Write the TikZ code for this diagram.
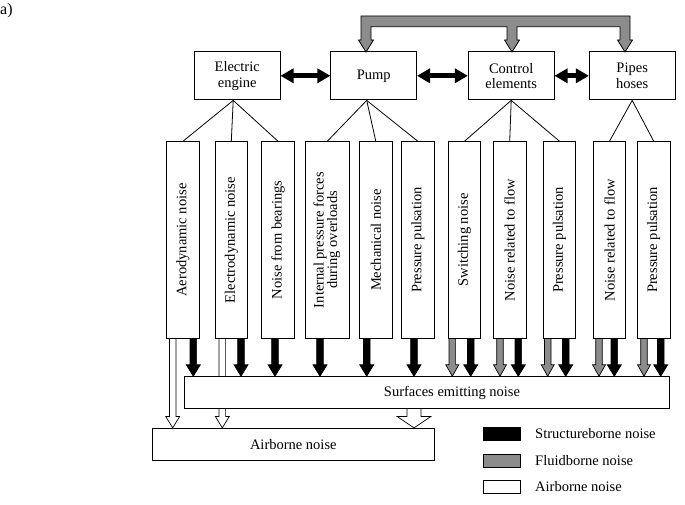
\documentclass[tikz,border=0pt]{standalone}
\usepackage{fontspec}
\setmainfont{Liberation Serif}
\usetikzlibrary{calc,backgrounds,arrows.meta}
\definecolor{fluid}{RGB}{140,140,140}
% vertical block arrow: #1 fill, #2 x (pt), #3 start point, #4 end point, #5 stem half width, #6 head half width
\newcommand\varrow[6]{%
  \filldraw[fill=#1,draw=black,line width=0.7pt,line join=miter] let \p1=(#3), \p2=(#4) in
   (#2pt-#5pt,\y1) -- (#2pt-#5pt,\y2+11.5pt) -- (#2pt-#6pt,\y2+11.5pt) -- (#2pt,\y2)
   -- (#2pt+#6pt,\y2+11.5pt) -- (#2pt+#5pt,\y2+11.5pt) -- (#2pt+#5pt,\y1);
}
\tikzset{
  box/.style={draw, line width=0.9pt, fill=white, minimum width=85.7pt, minimum height=48.3pt, align=center, inner sep=0pt},
  col/.style={draw, line width=0.9pt, fill=white, minimum height=196.6pt, inner sep=0pt},
  wide/.style={draw, line width=0.9pt, fill=white, inner sep=0pt},
  link/.style={line width=0.8pt},
  dbl/.style={line width=5pt, {Triangle[length=13pt,width=14pt]}-{Triangle[length=13pt,width=14pt]}},
  leg/.style={draw, line width=0.8pt, minimum width=37.4pt, minimum height=13.4pt, inner sep=0pt},
  legtext/.style={anchor=west, inner sep=0pt}
}
\begin{document}
\begin{tikzpicture}[x=1pt,y=-1pt,font=\fontsize{14.5}{15.5}\selectfont]
\useasboundingbox (0,0) rectangle (685,505);

\node[anchor=west, inner sep=0pt, font=\fontsize{16}{18}\selectfont] (lab) at (0,11) {a)};

% top boxes
\node[box] (ee)    at (237.2,75.8) {Electric\\engine};
\node[box] (pump)  at (373.7,75.8) {Pump};
\node[box] (ctrl)  at (511.2,75.8) {Control\\elements};
\node[box] (pipes) at (632.2,75.8) {Pipes\\hoses};

% columns
\node[col, minimum width=32.6pt] (c1)  at (183,240)   {\rotatebox{90}{Aerodynamic noise}};
\node[col, minimum width=32.7pt] (c2)  at (231.3,240) {\rotatebox{90}{Electrodynamic noise}};
\node[col, minimum width=32.6pt] (c3)  at (278,240)   {\rotatebox{90}{Noise from bearings}};
\node[col, minimum width=43.3pt] (c4)  at (327.3,240) {\rotatebox{90}{\begin{tabular}{@{}c@{}}Internal pressure forces\\[-2pt]during overloads\end{tabular}}};
\node[col, minimum width=33pt]   (c5)  at (375.8,240) {\rotatebox{90}{Mechanical noise}};
\node[col, minimum width=32.3pt] (c6)  at (417.8,240) {\rotatebox{90}{Pressure pulsation}};
\node[col, minimum width=32.4pt] (c7)  at (464.5,240) {\rotatebox{90}{Switching noise}};
\node[col, minimum width=32.7pt] (c8)  at (509.7,240) {\rotatebox{90}{Noise related to flow}};
\node[col, minimum width=32.4pt] (c9)  at (559.5,240) {\rotatebox{90}{Pressure pulsation}};
\node[col, minimum width=32.4pt] (c10) at (609.5,240) {\rotatebox{90}{Noise related to flow}};
\node[col, minimum width=32.7pt] (c11) at (653.7,240) {\rotatebox{90}{Pressure pulsation}};

% bottom boxes
\node[wide, minimum width=485pt, minimum height=31.6pt] (surf) at (426.8,392.5) {};
\node[inner sep=0pt] (surft) at (452,392.5) {Surfaces emitting noise};
\node[wide, minimum width=282pt, minimum height=31.7pt] (airb) at (293.3,444.2) {Airborne noise};

% links from boxes to columns
\coordinate (eeb) at ($(ee.south)+(-4,0)$);
\coordinate (pumpb) at ($(pump.south)+(-7,0)$);
\draw[link] (c1.north) -- (eeb) -- (c3.north);
\draw[link] (eeb) -- (c2.north);
\draw[link] (c4.north) -- (pumpb) -- (c6.north);
\draw[link] (pumpb) -- (c5.north);
\draw[link] (c7.north) -- (ctrl.south) -- (c9.north);
\draw[link] (ctrl.south) -- (c8.north);
\draw[link] (c10.north) -- (pipes.south) -- (c11.north);

% double arrows between top boxes
\draw[dbl] (ee.east) -- (pump.west);
\draw[dbl] (pump.east) -- (ctrl.west);
\draw[dbl] (ctrl.east) -- (pipes.west);

% grey feedback bar on top
\filldraw[fill=fluid, draw=black, line width=0.8pt, line join=miter]
  (361,16) -- (630,16) -- (630,40) -- (632.5,40) -- (625,52) -- (617.5,40) -- (620,40) -- (620,26.7)
  -- (517,26.7) -- (517,40) -- (519.5,40) -- (512,52) -- (504.5,40) -- (507,40) -- (507,26.7)
  -- (371,26.7) -- (371,40) -- (373.5,40) -- (366,52) -- (358.5,40) -- (361,40) -- cycle;

% arrows below the columns (behind the boxes)
\begin{pgfonlayer}{background}
\varrow{white}{172.7}{c1.south}{airb.north}{3.3}{7}
\varrow{white}{222.3}{c2.south}{airb.north}{3.3}{7}
\varrow{white}{414}{surf.south}{airb.north}{7}{17}
\varrow{black}{193.3}{c1.south}{surf.north}{3.3}{7}
\varrow{black}{241}{c2.south}{surf.north}{3.3}{7}
\varrow{black}{275}{c3.south}{surf.north}{3.3}{7}
\varrow{black}{320}{c4.south}{surf.north}{3.3}{7}
\varrow{black}{366.7}{c5.south}{surf.north}{3.3}{7}
\varrow{black}{414}{c6.south}{surf.north}{3.3}{7}
\varrow{fluid}{452.3}{c7.south}{surf.north}{3.3}{6.5}
\varrow{black}{470.7}{c7.south}{surf.north}{3.3}{7}
\varrow{fluid}{500}{c8.south}{surf.north}{3.3}{6.5}
\varrow{black}{518.3}{c8.south}{surf.north}{3.3}{7}
\varrow{fluid}{547.7}{c9.south}{surf.north}{3.3}{6.5}
\varrow{black}{565.7}{c9.south}{surf.north}{3.3}{7}
\varrow{fluid}{599}{c10.south}{surf.north}{3.3}{6.5}
\varrow{black}{614.3}{c10.south}{surf.north}{3.3}{7}
\varrow{fluid}{644}{c11.south}{surf.north}{3.3}{6.5}
\varrow{black}{660.7}{c11.south}{surf.north}{3.3}{7}
\end{pgfonlayer}

% legend
\node[leg, fill=black] (l1) at (502,434) {};
\node[leg, fill=fluid] (l2) at (502,460.7) {};
\node[leg, fill=white] (l3) at (502,486.7) {};
\node[legtext] (t1) at (535,434) {Structureborne noise};
\node[legtext] (t2) at (535,460.7) {Fluidborne noise};
\node[legtext] (t3) at (535,486.7) {Airborne noise};
\end{tikzpicture}
\end{document}
